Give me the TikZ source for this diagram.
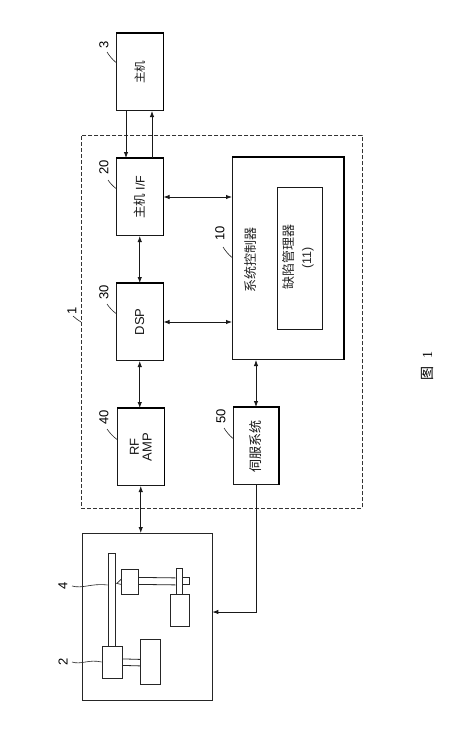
\documentclass[tikz,border=0pt]{standalone}
\usepackage{graphicx}
\usepackage{fontspec}
\setmainfont{Liberation Sans}
\newfontfamily\cjk{Noto Sans CJK SC}
\newfontfamily\cjkb{Liberation Serif}
\usetikzlibrary{arrows.meta,calc}
\tikzset{
  box/.style={draw=black!90,line width=1pt,inner sep=0pt,anchor=north west,align=center,text=black!90},
  part/.style={draw=black!85,line width=0.8pt,inner sep=0pt,anchor=north west,fill=white},
  frame/.style={draw=black!80,line width=0.8pt,dash pattern=on 4pt off 2pt,inner sep=0pt,anchor=north west},
  lbl/.style={inner sep=0pt,text=black,font=\fontsize{13}{13}\selectfont},
  txt/.style={inner sep=0pt,text=black!85},
  lead/.style={draw=black!85,line width=0.6pt},
  link/.style={draw=black!90,line width=0.8pt},
  dbl/.style={link,{Latex[length=6pt,width=4.4pt]}-{Latex[length=6pt,width=4.4pt]}},
  one/.style={link,-{Latex[length=6pt,width=4.4pt]}},
}
\newcommand{\rt}[1]{\rotatebox{90}{#1}}
\begin{document}
\begin{tikzpicture}[x=1pt,y=-1pt]
\useasboundingbox[fill=white] (0,0) rectangle (474,734);
% dashed frame
\node[frame,minimum width=281pt,minimum height=373pt] (dev) at (81,135) {};
% main boxes
\node[box,minimum width=46.5pt,minimum height=77pt,font=\cjk\fontsize{11.5}{12}\selectfont] (host) at (116,33) {\rt{主机}};
\node[box,minimum width=46.5pt,minimum height=77pt,font=\fontsize{12.5}{12}\selectfont] (hif) at (116,158) {\rt{{\cjk 主机} I/F}};
\node[box,minimum width=46.5pt,minimum height=77pt,font=\fontsize{13}{13}\selectfont] (dsp) at (116,283) {\rt{DSP}};
\node[box,minimum width=46.5pt,minimum height=77pt,font=\fontsize{13}{13}\selectfont] (rf) at (117,408) {\rt{\shortstack{RF\\[1pt]AMP}}};
\node[box,minimum width=111pt,minimum height=202pt] (ctl) at (232,157) {};
\node[box,minimum width=45pt,minimum height=142pt,line width=0.8pt] (dm) at (277,187) {};
\node[box,minimum width=45pt,minimum height=77pt,font=\cjk\fontsize{13}{13}\selectfont] (servo) at (233,407) {\rt{伺服系统}};
\node[txt,font=\cjk\fontsize{13}{13}\selectfont] (ctltxt) at (251,260) {\rt{系统控制器}};
\node[txt,font=\cjk\fontsize{13}{13}\selectfont] (dmtxt) at (289,257) {\rt{缺陷管理器}};
\node[txt,font=\fontsize{12.5}{12}\selectfont] (dmnum) at (308,258) {\rt{(11)}};
% heavier top and right edges
\foreach \n in {host,hif,dsp,rf,ctl,servo}
  \draw[black,line width=1.4pt] (\n.north west) -- (\n.north east) -- (\n.south east);
% drive
\node[part,minimum width=129.5pt,minimum height=167pt] (drive) at (82,533) {};
\node[part,minimum width=7.5pt,minimum height=93pt] (disc) at (107.5,553) {};
\node[part,minimum width=20pt,minimum height=32pt] (spin) at (101.5,646) {};
\node[part,minimum width=20pt,minimum height=45pt] (motor) at (140,639) {};
\node[part,minimum width=17pt,minimum height=25pt] (pick) at (121,569) {};
\node[part,minimum width=6.5pt,minimum height=26pt] (slide) at (175.5,568) {};
\node[part,minimum width=7pt,minimum height=7pt] (stub) at (182,577) {};
\node[part,minimum width=19.5pt,minimum height=32pt] (feed) at (169.5,594) {};
\draw[black!85,line width=0.8pt] ($(spin.east)+(0,-3.5)$) -- ($(motor.west)+(0,-2.5)$)
  ($(spin.east)+(0,3)$) -- ($(motor.west)+(0,4)$);
\draw[black!85,line width=0.8pt] ($(pick.east)+(0,-4.5)$) -- ($(slide.west)+(0,-3.5)$)
  ($(pick.east)+(0,2.5)$) -- ($(slide.west)+(0,3.5)$);
\draw[black!85,line width=0.7pt] ($(pick.west)+(0,-2.5)$) -- ($(disc.east)+(1,-16.5)$) -- ($(pick.west)+(0,2.5)$);
% connectors
\draw[one] ([xshift=10pt]host.south west) -- ([xshift=10pt]hif.north west);
\draw[one] ([xshift=36pt]hif.north west) -- ([xshift=36pt]host.south west);
\draw[dbl] (hif.south) -- (dsp.north);
\draw[dbl] (dsp.south) -- (dsp.south |- rf.north);
\draw[dbl] (hif.east |- 0,197) -- (ctl.west |- 0,197);
\draw[dbl] (dsp.east) -- (dsp.east -| ctl.west);
\draw[dbl] (servo.north) -- (servo.north |- ctl.south);
\draw[dbl] (rf.south) -- (rf.south |- drive.north);
\draw[one] (servo.south) |- (drive.east |- 0,612);
% leaders and numerals
\node[lbl] (l3) at (104,45) {\rt{3}};
\node[lbl] (l20) at (104,167) {\rt{20}};
\node[lbl] (l30) at (104,292) {\rt{30}};
\node[lbl] (l40) at (104,417) {\rt{40}};
\node[lbl] (l10) at (220,233) {\rt{10}};
\node[lbl] (l50) at (221,416) {\rt{50}};
\node[lbl] (l1) at (72,311) {\rt{1}};
\node[lbl] (l4) at (63,586) {\rt{4}};
\node[lbl] (l2) at (63,662) {\rt{2}};
\draw[lead] ($(l3)+(3,7)$) to[bend right=8] ($(host.west)+(0,-9.5)$);
\draw[lead] ($(l20)+(4,13)$) to[bend right=8] ($(hif.west)+(0,-8.5)$);
\draw[lead] ($(l30)+(3,12)$) to[bend right=8] ($(dsp.west)+(0,-8.5)$);
\draw[lead] ($(l40)+(3,12)$) to[bend right=8] ($(rf.west)+(0,-7.5)$);
\draw[lead] ($(l10)+(3,14)$) to[bend right=8] ($(ctl.west)+(0,-1)$);
\draw[lead] ($(l50)+(3,12)$) to[bend right=8] ($(servo.west)+(0,-7.5)$);
\draw[lead] ($(l1)+(1,5)$) to[bend right=5] (dev.west |- 0,322);
\draw[lead] ($(l4)+(9,0)$) .. controls ($(l4)+(20,3)$) and ($(l4)+(28,-3)$) .. (disc.west |- 0,585);
\draw[lead] ($(l2)+(9,0)$) .. controls ($(l2)+(18,3)$) and ($(l2)+(26,-3)$) .. (spin.west |- 0,662);
% figure caption
\node[txt,font=\fontsize{14}{14}\selectfont,text=black] (cap) at (427,366) {\rt{{\cjk 图}\ \ {\cjkb 1}}};
\end{tikzpicture}
\end{document}
